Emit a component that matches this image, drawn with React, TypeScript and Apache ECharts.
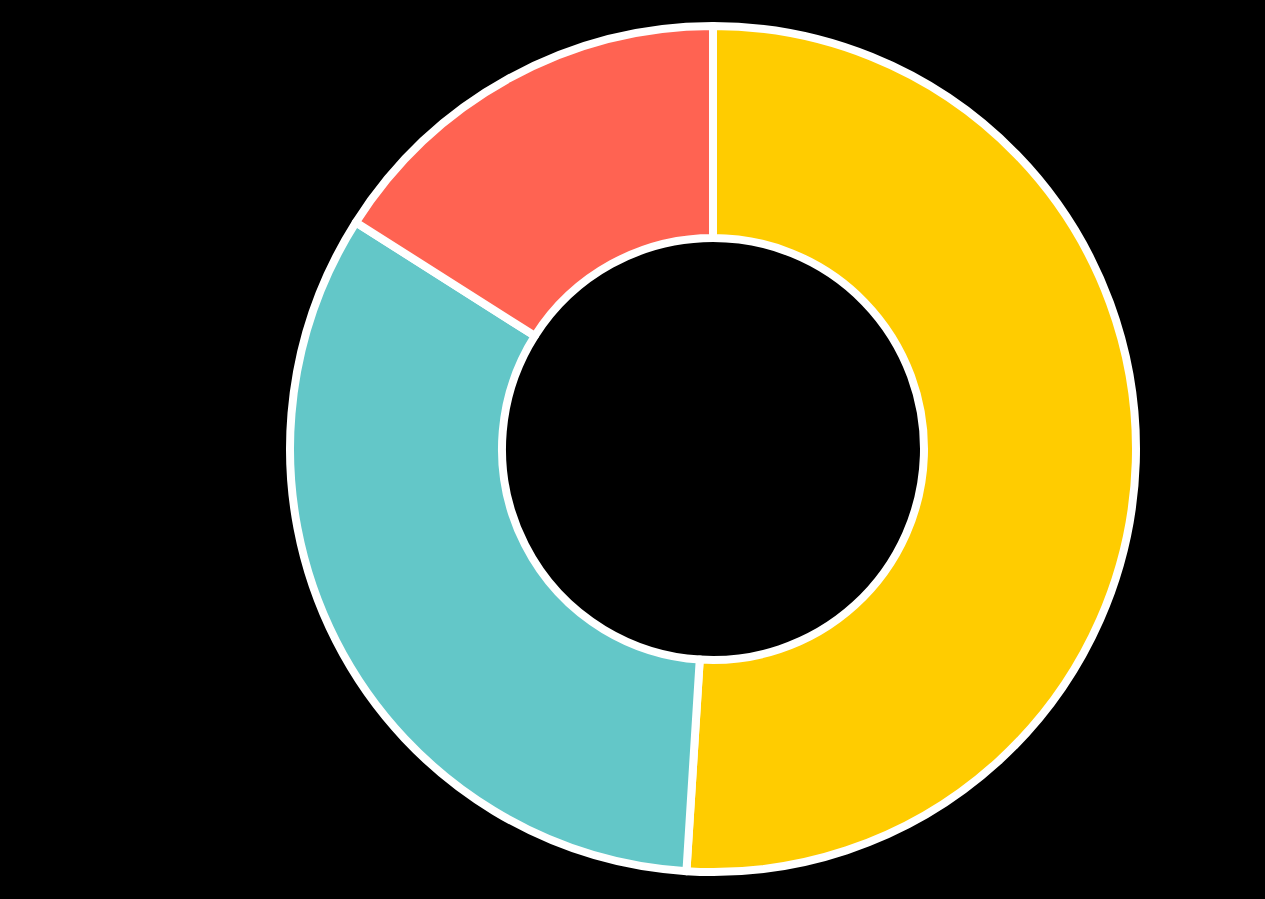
import React, { useEffect, useRef } from 'react';
import * as echarts from 'echarts';

// slices, clockwise from 12 o'clock
const names = ['A', 'B', 'C'];
const values = [51, 33, 16];
const colors = ['#FFCC00', '#63C7C8', '#FF6352'];

const App: React.FC = () => {
  const chartRef = useRef<HTMLDivElement>(null);

  useEffect(() => {
    if (!chartRef.current) return;

    const chart = echarts.init(chartRef.current, undefined, { renderer: 'svg' });

    const option: echarts.EChartsOption = {
      animation: false,
      backgroundColor: '#000000',
      series: [
        {
          type: 'pie',
          center: [713, 449],
          radius: [211, 423],
          startAngle: 90,
          clockwise: true,
          label: { show: false },
          labelLine: { show: false },
          emphasis: { disabled: true },
          itemStyle: {
            borderColor: '#ffffff',
            borderWidth: 8
          },
          data: names.map((name, i) => ({
            name,
            value: values[i],
            itemStyle: { color: colors[i] }
          }))
        }
      ]
    };

    chart.setOption(option);

    return () => {
      chart.dispose();
    };
  }, []);

  return (
    <div
      ref={chartRef}
      style={{ position: 'fixed', left: 0, top: 0, width: '1265px', height: '899px', background: '#000' }}
    />
  );
};

export default App;
